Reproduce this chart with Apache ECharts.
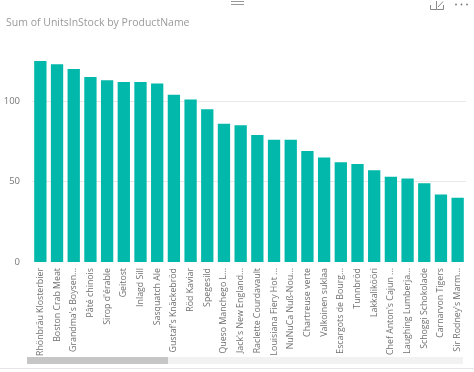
<!DOCTYPE html>
<html>
<head>
<meta charset="utf-8">
<script src="https://cdn.jsdelivr.net/npm/echarts@6/dist/echarts.min.js"></script>
<style>
html,body{margin:0;padding:0;background:#fff;}
#c{width:474px;height:372px;}
</style>
</head>
<body>
<div id="c"></div>
<script>
var categories = [
  "Rhönbräu Klosterbier", "Boston Crab Meat", "Grandma's Boysen...", "Pâté chinois",
  "Sirop d'érable", "Geitost", "Inlagd Sill", "Sasquatch Ale", "Gustaf's Knäckebröd",
  "Röd Kaviar", "Spegesild", "Queso Manchego L...", "Jack's New England...",
  "Raclette Courdavault", "Louisiana Fiery Hot ...", "NuNuCa Nuß-Nou...", "Chartreuse verte",
  "Valkoinen suklaa", "Escargots de Bourg...", "Tunnbröd", "Lakkalikööri",
  "Chef Anton's Cajun ...", "Laughing Lumberja...", "Schoggi Schokolade",
  "Carnarvon Tigers", "Sir Rodney's Marm..."
];
var unitsInStock = [125, 123, 120, 115, 113, 112, 112, 111, 104, 101, 95, 86, 85, 79, 76, 76, 69, 65, 62, 61, 57, 53, 52, 49, 42, 40];
var yTicks = [0, 50, 100];

var chart = echarts.init(document.getElementById('c'), null, {renderer: 'canvas'});
chart.setOption({
  animation: false,
  title: {
    text: 'Sum of UnitsInStock by ProductName',
    left: 1, top: 13,
    textStyle: {fontFamily: 'Open Sans', fontSize: 10.5, fontWeight: 'normal', color: '#9a9a9a'}
  },
  grid: {left: 32, right: 8, top: 61, bottom: 110, containLabel: false},
  xAxis: {
    type: 'category',
    data: categories,
    axisLine: {show: false},
    axisTick: {show: false},
    axisLabel: {
      rotate: 90, interval: 0, margin: 6,
      fontFamily: 'Open Sans', fontSize: 8.8, color: '#707070'
    }
  },
  yAxis: {
    type: 'value',
    min: 0, max: 125, interval: 50,
    axisLine: {show: false},
    axisTick: {show: false},
    axisLabel: {
      margin: 12, fontFamily: 'Open Sans', fontSize: 9.5, color: '#777',
      showMaxLabel: false,
      formatter: function (v) { return yTicks.indexOf(v) >= 0 ? String(v) : ''; }
    },
    splitLine: {show: true, showMinLine: false, showMaxLine: false, lineStyle: {color: '#e8e8e8', width: 1}}
  },
  series: [{
    type: 'bar',
    data: unitsInStock,
    barWidth: 12.3,
    itemStyle: {color: '#01B8AA'}
  }],
  graphic: [
    {type: 'rect', shape: {x: 27, y: 357, width: 436, height: 7}, style: {fill: '#f2f2f2'}},
    {type: 'rect', shape: {x: 27, y: 357, width: 141, height: 7}, style: {fill: '#c6c6c6'}},
    {type: 'line', shape: {x1: 0, y1: 368.5, x2: 474, y2: 368.5}, style: {stroke: '#e6e6e6', lineWidth: 1}},
    {type: 'line', shape: {x1: 231, y1: 1.5, x2: 244, y2: 1.5}, style: {stroke: '#999', lineWidth: 1}},
    {type: 'line', shape: {x1: 231, y1: 4.5, x2: 244, y2: 4.5}, style: {stroke: '#999', lineWidth: 1}},
    {type: 'polyline', shape: {points: [[436.5, 1], [436.5, 9.5], [443.5, 9.5], [443.5, 5]]}, style: {stroke: '#888', fill: null, lineWidth: 1}},
    {type: 'polyline', shape: {points: [[430.5, 5], [430.5, 9.5], [436.5, 9.5]]}, style: {stroke: '#888', fill: null, lineWidth: 1}},
    {type: 'line', shape: {x1: 438, y1: 7, x2: 443, y2: 1.5}, style: {stroke: '#888', lineWidth: 1}},
    {type: 'circle', shape: {cx: 456, cy: 4.5, r: 0.9}, style: {fill: '#777'}},
    {type: 'circle', shape: {cx: 461.5, cy: 4.5, r: 0.9}, style: {fill: '#777'}},
    {type: 'circle', shape: {cx: 467, cy: 4.5, r: 0.9}, style: {fill: '#777'}}
  ]
});
</script>
</body>
</html>
